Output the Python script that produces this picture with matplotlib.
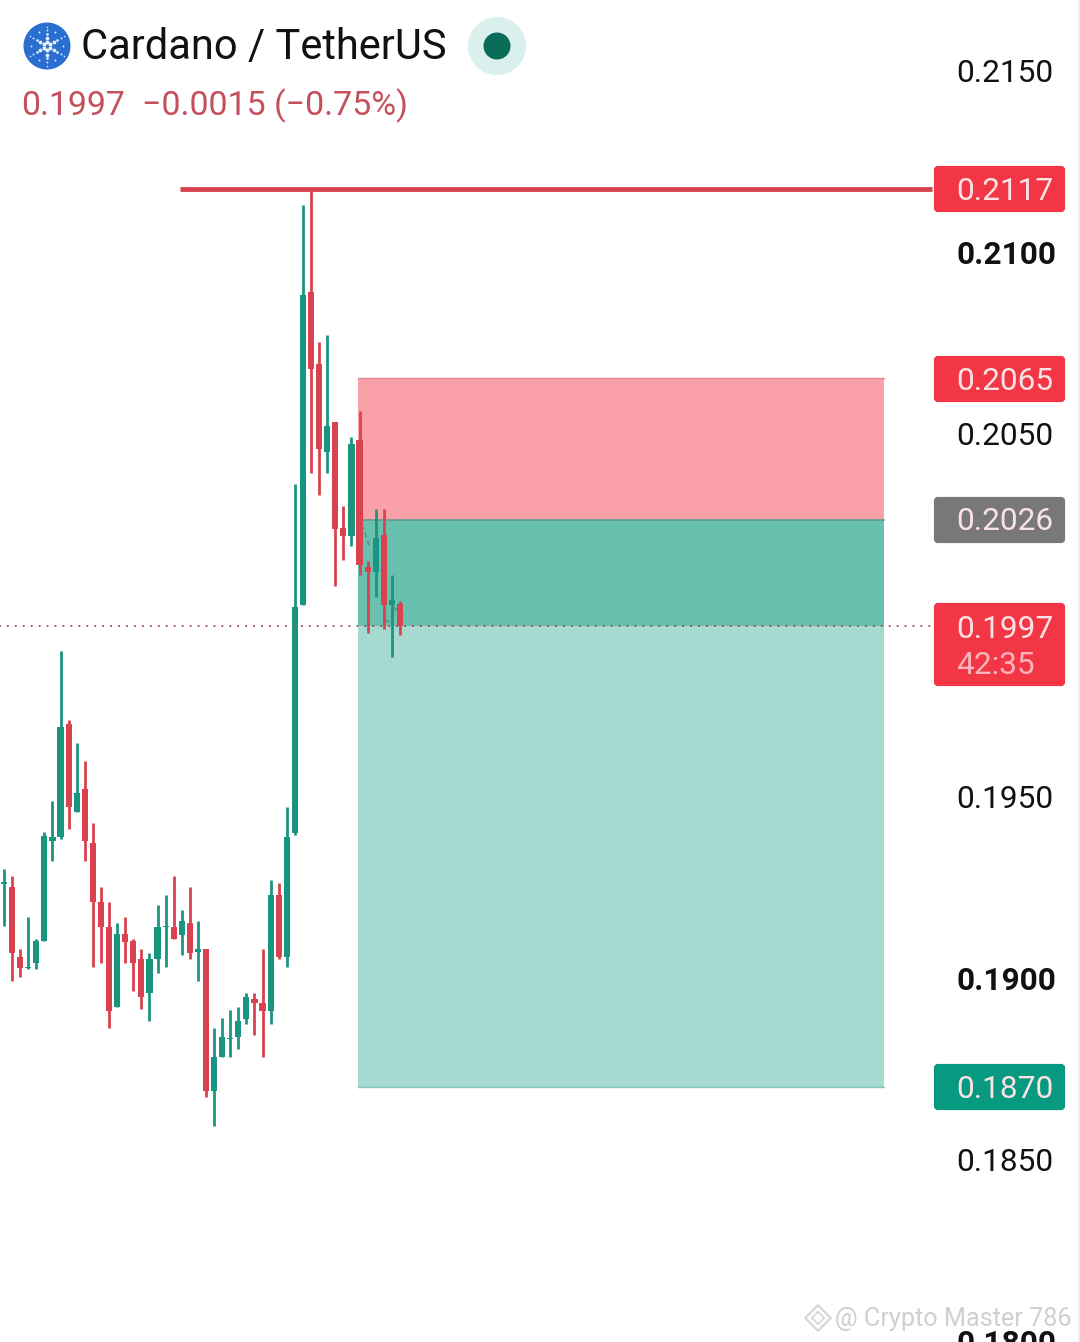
import numpy as np
import matplotlib
matplotlib.use("Agg")
import matplotlib.pyplot as plt
from matplotlib.patches import Circle, FancyBboxPatch, Rectangle
from matplotlib.transforms import blended_transform_factory

# candle values, in units of 0.0001
opens = [1926.0, 1925.1, 1906.0, 1902.8, 1904.2, 1910.2, 1938.0, 1939.1, 1970.1, 1946.0,
         1952.1, 1937.2, 1921.2, 1914.1, 1892.1, 1912.3, 1910.2, 1905.3, 1896.1, 1905.3,
         1914.1, 1914.1, 1912.1, 1915.2, 1907.3, 1908.0, 1869.1, 1878.3, 1883.2, 1884.0,
         1888.9, 1894.3, 1893.2, 1891.1, 1923.1, 1906.0, 1940.1, 2002.9, 2089.1, 2069.3,
         2045.1, 2053.3, 2024.1, 2021.9, 2048.3, 2013.4, 2012.0, 2022.2, 2002.9, 2003.2]
highs = [1930.1, 1928.1, 1908.0, 1917.0, 1911.0, 1940.3, 1949.0, 1990.1, 1971.2, 1965.0,
         1960.0, 1942.9, 1925.1, 1921.2, 1915.2, 1917.0, 1911.0, 1908.0, 1907.1, 1920.2,
         1923.1, 1928.1, 1919.0, 1925.1, 1915.9, 1908.0, 1886.3, 1889.0, 1891.3, 1892.1,
         1896.1, 1896.1, 1908.0, 1927.0, 1926.2, 1947.2, 2036.2, 2113.1, 2117.5, 2075.3,
         2077.3, 2053.3, 2030.2, 2049.2, 2056.3, 2015.0, 2029.3, 2029.3, 2011.2, 2004.0]
lows = [1914.5, 1899.4, 1900.3, 1902.5, 1902.5, 1910.2, 1932.5, 1938.3, 1941.3, 1946.0,
        1932.5, 1903.3, 1904.4, 1886.5, 1892.1, 1904.4, 1896.5, 1891.5, 1888.4, 1901.4,
        1903.3, 1911.0, 1906.4, 1905.5, 1899.4, 1867.4, 1859.5, 1878.3, 1878.5, 1880.5,
        1887.5, 1884.3, 1878.5, 1887.5, 1905.5, 1903.3, 1939.5, 2002.9, 2039.3, 2033.2,
        2039.3, 2008.1, 2015.3, 2019.1, 2011.2, 1995.2, 2005.1, 1996.3, 1988.6, 1994.6]
closes = [1926.6, 1907.1, 1903.0, 1903.3, 1910.2, 1939.3, 1939.1, 1969.2, 1947.2, 1951.0,
          1938.0, 1921.2, 1914.1, 1891.1, 1912.3, 1910.1, 1904.2, 1895.0, 1905.3, 1914.1,
          1914.5, 1911.0, 1915.9, 1907.1, 1908.0, 1869.1, 1878.3, 1884.0, 1883.6, 1888.2,
          1895.0, 1893.2, 1891.1, 1923.1, 1906.0, 1939.1, 2002.3, 2088.3, 2067.9, 2046.0,
          2052.2, 2023.8, 2021.9, 2047.2, 2013.9, 2012.0, 2021.3, 2002.9, 2004.3, 1997.0]

tick_prices = [0.2150, 0.2100, 0.2050, 0.1950, 0.1900, 0.1850, 0.1800]
tick_bold = [False, True, False, False, True, False, True]

# the labels round these, the drawn levels sit a touch off the rounded value
high_price = 0.21176
stop_price = 0.20653
entry_price = 0.20263
last_price = 0.1997
target_price = 0.18702
zone_start = 43.85
zone_end = 108.9

# short grey marks showing through the zone near the last candles
mark_x = [[44.3, 45.3], [47.2, 48.0], [48.2, 49.6]]
mark_y = [[0.20250, 0.20186], [0.19988, 0.19979], [0.20023, 0.19996]]

red = "#D8434F"
green = "#1A9580"
spacing = 8.08

W, H = 1080, 1342
fig = plt.figure(figsize=(W / 100, H / 100), dpi=100, facecolor="white")
plt.rcParams["font.family"] = ["Roboto", "DejaVu Sans"]

# price axes fill the whole image: 36300 px per 1.0 of price, 0.2150 sits at y=71
ax = fig.add_axes([0, 0, 1, 1])
ax.set_xlim(-4 / spacing, (W - 4) / spacing)
ax.set_ylim(0.2150 - (H - 71) / 36300, 0.2150 + 71 / 36300)
ax.axis("off")

# position zones
ax.add_patch(Rectangle((zone_start, entry_price), zone_end - zone_start, stop_price - entry_price,
                       fc="#F9A0A8", ec="none", zorder=1))
ax.add_patch(Rectangle((zone_start, last_price), zone_end - zone_start, entry_price - last_price,
                       fc="#6AC0AE", ec="none", zorder=1))
ax.add_patch(Rectangle((zone_start, target_price), zone_end - zone_start, last_price - target_price,
                       fc="#A6DAD1", ec="none", zorder=1))
ax.plot([zone_start, zone_end], [stop_price, stop_price], color="#E58A92", lw=1, zorder=2)
ax.plot([zone_start, zone_end], [entry_price, entry_price], color="#5E9E90", lw=1.2, zorder=2)
ax.plot([zone_start, zone_end], [target_price, target_price], color="#84C7BB", lw=1, zorder=2)
for mx, my in zip(mark_x, mark_y):
    ax.plot(mx, my, color="#5F8F86", lw=1.2, ls=(0, (3, 2)), zorder=2)

# candles
o = np.array(opens) / 1e4
h = np.array(highs) / 1e4
l = np.array(lows) / 1e4
c = np.array(closes) / 1e4
idx = np.arange(len(o))
cols = [green if cc >= oo else red for oo, cc in zip(o, c)]
ax.vlines(idx, l, h, colors=cols, lw=2.0, zorder=3)
ax.bar(idx, np.abs(c - o), bottom=np.minimum(o, c), width=0.76, color=cols, zorder=4)

# high line and last price line
right_x = (932 - 4) / spacing
ax.plot([(180 - 4) / spacing, right_x], [high_price, high_price], color=red, lw=3.5,
        solid_capstyle="butt", zorder=5)
ax.plot([-1, right_x], [last_price, last_price], color="#A8424E", lw=1.3,
        dashes=(1, 3.4), zorder=5)

# price scale labels
trans = blended_transform_factory(fig.transFigure, ax.transData)
for p, b in zip(tick_prices, tick_bold):
    ax.text(956 / W, p - 2.5 / 36300, f"{p:.4f}", transform=trans, fontsize=22.8, va="center",
            ha="left", color="#111111", fontweight="bold" if b else "normal", zorder=6)

# overlay in pixel coordinates for the boxes, header and watermark
ov = fig.add_axes([0, 0, 1, 1])
ov.set_xlim(0, W)
ov.set_ylim(H, 0)
ov.axis("off")
ov.patch.set_alpha(0)


def price_box(y0, y1, color):
    ov.add_patch(FancyBboxPatch((934 + 2, y0 + 2), 131 - 4, y1 - y0 - 4,
                                boxstyle="round,pad=0,rounding_size=2", mutation_aspect=1,
                                fc=color, ec=color, lw=3))


price_box(166, 212, "#F23645")
price_box(356, 402, "#F23645")
price_box(497, 543, "#787878")
price_box(603, 686, "#F23645")
price_box(1064, 1110, "#089981")
for y, s in [(191, "0.2117"), (381, "0.2065"), (522, "0.2026"), (629, "0.1997"), (1089, "0.1870")]:
    ov.text(956, y, s, fontsize=22.8, color="#FBE3E5", va="center", ha="left")
ov.text(956, 666, "42:35", fontsize=22.8, color="#FBB4BA", va="center", ha="left")

# header
ov.add_patch(Circle((47, 46), 23.5, fc="#2A6FD0", ec="none"))
for r, n, s in [(4, 6, 14), (8.5, 6, 12), (12, 6, 6), (16, 12, 3), (19.5, 6, 2)]:
    ang = np.arange(n) * 2 * np.pi / n + np.pi / 6
    ov.scatter(47 + r * np.cos(ang), 46 + r * np.sin(ang), s=s * 0.6, c="#E8F0FB", lw=0, zorder=3)
ov.text(81, 47, "Cardano / TetherUS", fontsize=30, color="#111111", va="center", ha="left")
ov.add_patch(Circle((497, 46), 29, fc="#DAF0EC", ec="none"))
ov.add_patch(Circle((497, 46), 13.5, fc="#0A6B58", ec="none"))
ov.text(21, 106, "0.1997", fontsize=24.4, color="#C4505C", va="center", ha="left")
ov.text(142, 106, "\u22120.0015 (\u22120.75%)", fontsize=24.5, color="#C4505C", va="center", ha="left")

# watermark
ov.text(1072, 1319, "@ Crypto Master 786", fontsize=18.2, color="#CFCFCF", va="center", ha="right")
ov.scatter([818], [1318], marker="D", s=170, facecolors="none", edgecolors="#D5D5D5", lw=1.5)
ov.scatter([818], [1318], marker="D", s=40, facecolors="none", edgecolors="#D5D5D5", lw=1.2)

# thin edge of the screenshot on the right
ov.plot([1078.5, 1078.5], [0, H], color="#ECECEC", lw=1.2)

fig.savefig("out.png", dpi=100)
